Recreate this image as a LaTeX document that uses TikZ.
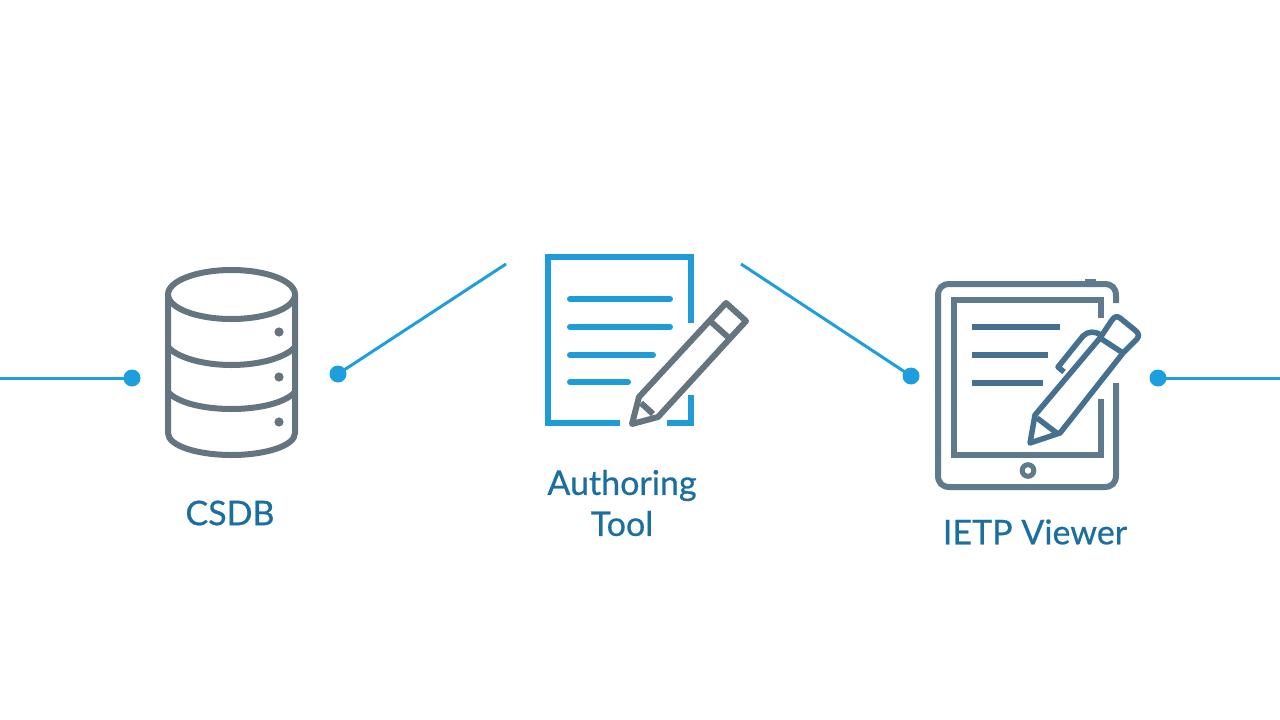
\documentclass[tikz,border=0pt]{standalone}
\usepackage{fontspec}
\setmainfont{Lato}
\newfontfamily\labfont[FakeBold=0.6]{Lato}
\definecolor{linkblue}{HTML}{1D9FDD}
\definecolor{docblue}{HTML}{1F9CD8}
\definecolor{iconGray}{HTML}{64757F}
\definecolor{tabGray}{HTML}{5F7A8C}
\definecolor{penSlate}{HTML}{46708F}
\definecolor{labelBlue}{HTML}{1A6FA0}
\tikzset{
  dotnode/.style={circle,fill=linkblue,draw=none,inner sep=0pt,minimum size=17pt},
  link/.style={draw=linkblue,line width=3pt},
  label/.style={text=labelBlue,font=\labfont\fontsize{34}{41}\selectfont,align=center,inner sep=0pt},
  cyl/.style={draw=iconGray,line width=6pt},
  docl/.style={draw=docblue,line width=6pt},
  docline/.style={draw=docblue,line width=6pt,line cap=round},
  pencil/.style={draw=iconGray,line width=6pt,line join=round},
  tab/.style={draw=tabGray,line width=6pt},
  tabline/.style={draw=penSlate,line width=5.5pt},
  pen/.style={draw=penSlate,line width=5.5pt,line join=round}
}
\begin{document}
\begin{tikzpicture}[x=1pt,y=-1pt]
\useasboundingbox (0,0) rectangle (1280,720);
\fill[white] (0,0) rectangle (1280,720);
% connectors
\coordinate (leftEnd) at (0,378);
\coordinate (midA) at (506,264);
\coordinate (midB) at (741,264);
\coordinate (rightEnd) at (1280,378);
\node[dotnode] (d1) at (132,378) {};
\node[dotnode] (d2) at (338,374) {};
\node[dotnode] (d3) at (911,376) {};
\node[dotnode] (d4) at (1158,378) {};
\draw[link] (leftEnd) -- (d1.center);
\draw[link] (d2.center) -- (midA);
\draw[link] (midB) -- (d3.center);
\draw[link] (d4.center) -- (rightEnd);
% CSDB cylinder
\draw[cyl] (231.5,294.5) ellipse [x radius=63.5,y radius=24.5];
\draw[cyl,line cap=round] (168,294.5) -- (168,433) .. controls (168,446) and (198,455) .. (231.5,455) .. controls (265,455) and (295,446) .. (295,433) -- (295,294.5);
\draw[cyl] (168,347) .. controls (178,358) and (204,365) .. (231.5,365) .. controls (259,365) and (285,358) .. (295,347);
\draw[cyl] (168,392) .. controls (178,403) and (204,409) .. (231.5,409) .. controls (259,409) and (285,403) .. (295,392);
\fill[iconGray] (279,332) circle (4.6) (279,377) circle (4.6) (279,422) circle (4.6);
% document
\draw[docl,line join=miter] (620,423) -- (547.5,423) -- (547.5,257) -- (691,257) -- (691,323);
\draw[docl,line join=miter] (667,423) -- (691,423) -- (691,395);
\draw[docline] (570,299) -- (670,299);
\draw[docline] (570,327) -- (670,327);
\draw[docline] (570,355) -- (653,355);
\draw[docline] (570,382) -- (628,382);
% pencil
\draw[pencil] (632,424) -- (639,397) -- (726,303) -- (746,321) -- (658,417) -- cycle;
\draw[pencil] (709,320) -- (729,338);
\draw[pencil] (641,403) -- (653,414);
% tablet
\draw[tab] (1116,303) -- (1116,296) .. controls (1116,288) and (1112,284) .. (1104,284) -- (950,284) .. controls (942,284) and (938,288) .. (938,296) -- (938,475) .. controls (938,483) and (942,487) .. (950,487) -- (1104,487) .. controls (1112,487) and (1116,483) .. (1116,475) -- (1116,383);
\fill[tabGray] (1085,279) rectangle (1096,286);
\draw[tab,line join=miter] (1101,318) -- (1101,300) -- (954,300) -- (954,455) -- (1101,455) -- (1101,399);
\draw[tab,line width=5pt] (1028,470.5) circle (5.8);
\draw[tabline] (972,327) -- (1060,327);
\draw[tabline] (972,355) -- (1048,355);
\draw[tabline] (972,383) -- (1043,383);
% pen
\draw[pen] (1030,443) -- (1035,415) -- (1100,338) -- (1112,320) .. controls (1115,316) and (1117,316) .. (1120,318) -- (1136,331) .. controls (1139,334) and (1139,336) .. (1137,339) -- (1123,353) -- (1060,433) -- cycle;
\draw[pen] (1100,338) -- (1123,353);
\draw[pen] (1037,418) -- (1058,434);
\draw[pen] (1064,372) -- (1058,367) -- (1083,336) .. controls (1088,331) and (1095,331) .. (1101,335);
% labels
\node[label] (csdb) at (230,513) {CSDB};
\node[label] (auth) at (622,503) {Authoring\\Tool};
\node[label] (ietp) at (1035,532) {IETP Viewer};
\end{tikzpicture}
\end{document}
